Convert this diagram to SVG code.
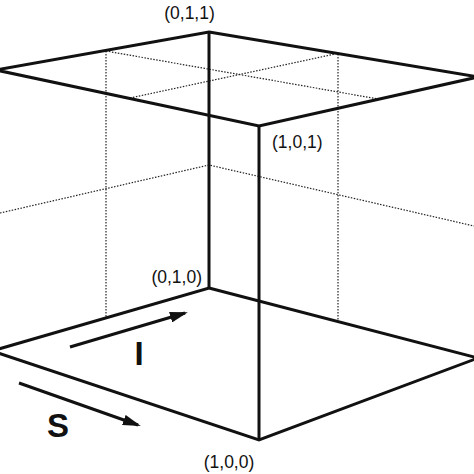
<svg xmlns="http://www.w3.org/2000/svg" width="474" height="474" viewBox="0 0 474 474">
<style>
.e{fill:none;stroke:#111;stroke-width:3;stroke-linejoin:miter}
.d{fill:none;stroke:#222;stroke-width:1.2;stroke-dasharray:1.5 1.5}
.a{fill:none;stroke:#111;stroke-width:3}
.lbl{font-family:"Liberation Sans",Arial,sans-serif;font-size:17.5px;fill:#111}
.big{font-family:"Liberation Sans",Arial,sans-serif;font-size:33px;font-weight:bold;fill:#111}
</style>
<defs>
<marker id="ah" markerWidth="6" markerHeight="3.6" refX="5" refY="1.8" orient="auto" markerUnits="strokeWidth">
<path d="M0,0 L6,1.8 L0,3.6 Z" fill="#111"/>
</marker>
</defs>
<rect width="474" height="474" fill="#fff"/>
<g id="guides">
<line class="d" x1="106" y1="51" x2="106" y2="317"/>
<line class="d" x1="338" y1="54" x2="338" y2="321"/>
<line class="d" x1="106" y1="51" x2="378" y2="99"/>
<line class="d" x1="130" y1="98" x2="335" y2="54"/>
<polyline class="d" points="0,213 209,165 474,226"/>
</g>
<g id="connectors">
<polygon id="top-face" class="e" points="209,32 478,77 259,126 -4,70"/>
<polygon id="bottom-face" class="e" points="209,288 478,358 259,440 -8,351"/>
<line class="e" x1="209" y1="32" x2="209" y2="288"/>
<line class="e" x1="259" y1="126" x2="259" y2="440"/>
<line id="arrow-I" class="a" x1="70" y1="347" x2="185" y2="313" marker-end="url(#ah)"/>
<line id="arrow-S" class="a" x1="19" y1="383" x2="138" y2="425" marker-end="url(#ah)"/>
</g>
<g id="v011"><text class="lbl" x="189.5" y="19" text-anchor="middle">(0,1,1)</text></g>
<g id="v101"><text class="lbl" x="272" y="148">(1,0,1)</text></g>
<g id="v010"><text class="lbl" x="202" y="283" text-anchor="end">(0,1,0)</text></g>
<g id="v100"><text class="lbl" x="229" y="468" text-anchor="middle">(1,0,0)</text></g>
<g id="label-I"><text class="big" x="139" y="365" text-anchor="middle">I</text></g>
<g id="label-S"><text class="big" x="58" y="437" text-anchor="middle">S</text></g>
</svg>
